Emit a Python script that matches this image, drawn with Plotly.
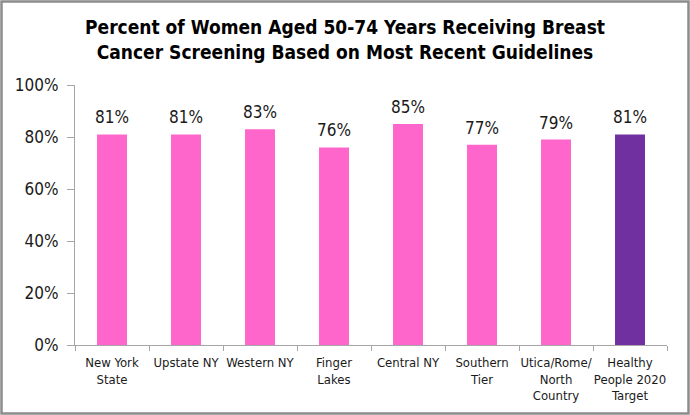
import plotly.graph_objects as go

categories = ["New York<br>State", "Upstate NY", "Western NY", "Finger<br>Lakes",
              "Central NY", "Southern<br>Tier", "Utica/Rome/<br>North<br>Country",
              "Healthy<br>People 2020<br>Target"]
values = [81, 81, 83, 76, 85, 77, 79, 81]
labels = [f"{v}%" for v in values]
colors = ["#FF66CC"] * 7 + ["#7030A0"]
y_ticks = [0, 20, 40, 60, 80, 100]
y_ticktext = [f"{t}%" for t in y_ticks]

W, H = 690, 415
ML, MR, MT, MB = 75, 23, 85, 70
pw, ph = W - ML - MR, H - MT - MB

font = "DejaVu Sans Condensed"

fig = go.Figure(go.Bar(
    x=categories, y=values, marker=dict(color=colors, line=dict(width=0)),
    hoverinfo="x+y",
))

# value labels above the bars
for cat, v, lab in zip(categories, values, labels):
    fig.add_annotation(
        x=cat, y=v, text=lab, showarrow=False, yanchor="bottom", yshift=5,
        font=dict(size=17, color="#1a1a1a", family=font),
    )

fig.update_layout(
    width=W, height=H, margin=dict(l=ML, r=MR, t=MT, b=MB, autoexpand=False),
    paper_bgcolor="white", plot_bgcolor="white",
    bargap=0.595, showlegend=False,
    title=dict(
        text="<b>Percent of Women Aged 50-74 Years Receiving Breast<br>Cancer Screening Based on Most Recent Guidelines</b>",
        x=0.5, xanchor="center", y=0.917, yanchor="top",
        font=dict(size=19, color="black", family=font),
    ),
    font=dict(family=font, color="#1a1a1a"),
    xaxis=dict(
        showline=True, linecolor="#a6a6a6", linewidth=1,
        ticks="outside", tickson="boundaries", ticklen=5, tickcolor="#a6a6a6",
        ticklabelstandoff=5,
        tickfont=dict(size=13), tickangle=0, showgrid=False, automargin=False,
    ),
    yaxis=dict(
        range=[0, 100], tickvals=y_ticks, ticktext=y_ticktext,
        showline=True, linecolor="#a6a6a6", linewidth=1,
        ticks="outside", ticklen=7, tickcolor="#a6a6a6", ticklabelstandoff=5,
        tickfont=dict(size=17), showgrid=False, zeroline=False, automargin=False,
    ),
)

# frame around the whole chart
fig.add_shape(
    type="rect", xref="paper", yref="paper",
    x0=-(ML - 1.5) / pw, x1=1 + (MR - 1.5) / pw,
    y0=-(MB - 1.5) / ph, y1=1 + (MT - 1.5) / ph,
    line=dict(color="#8c8c8c", width=2.5),
)

# drop the default page margin so the figure sits at the window's top-left corner
fig.write_html("out.html", config={"displayModeBar": False},
               post_script="document.body.style.margin = '0';")
